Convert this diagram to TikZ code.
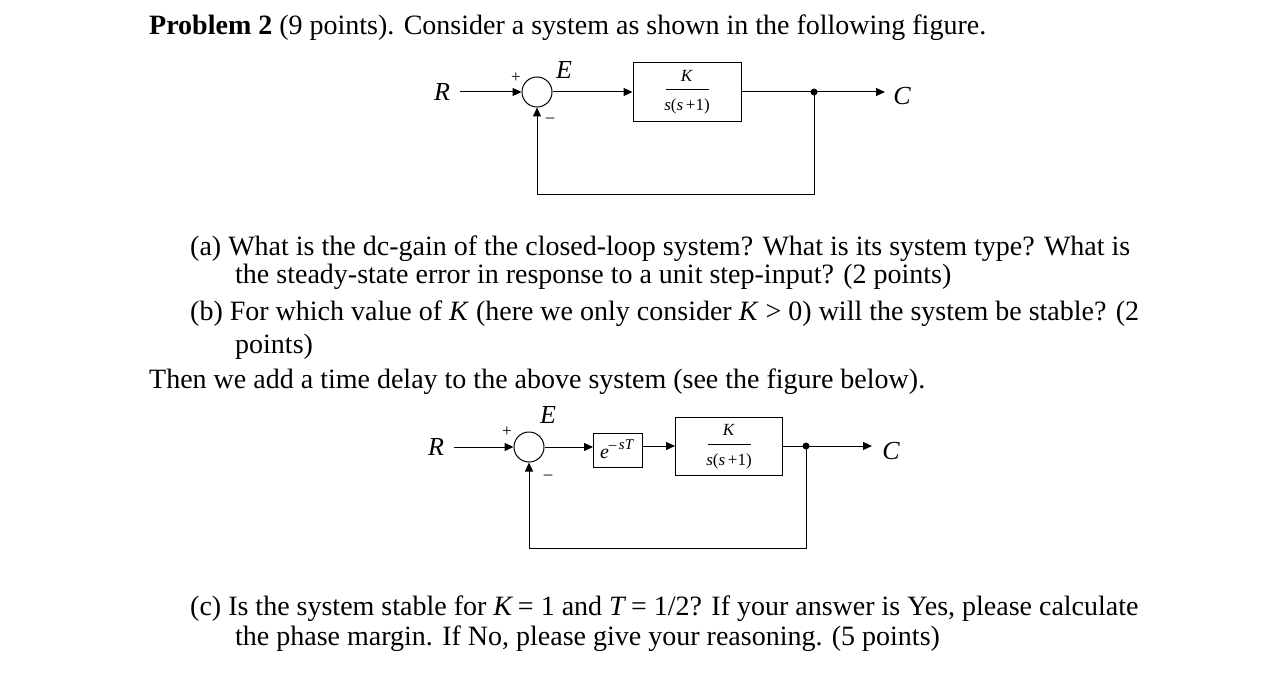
\documentclass[tikz,border=0pt]{standalone}
\usepackage{fontspec}
\setmainfont{Liberation Serif}
\usetikzlibrary{arrows.meta}
\begin{document}
\begin{tikzpicture}[x=1pt,y=-1pt,
  txt/.style={anchor=base west,inner sep=0pt,font=\fontsize{28}{33}\selectfont},
  lbl/.style={inner sep=0pt,font=\fontsize{26}{30}\selectfont\itshape},
  sml/.style={inner sep=0pt,font=\fontsize{17}{20}\selectfont},
  sumc/.style={draw,circle,minimum size=30pt,inner sep=0pt,line width=1pt},
  blk/.style={draw,inner sep=0pt,line width=1pt},
  sig/.style={-{Triangle[length=9pt,width=8pt]},line width=1pt},
  wire/.style={line width=1pt}]
\useasboundingbox (0,0) rectangle (1284,679);
\node[txt] at (149,35) {\textbf{Problem 2} (9 points). Consider a system as shown in the following figure.};
% diagram 1
\node[lbl] (R1) at (442,92) {R};
\node[sumc] (S1) at (537,92) {};
\node[lbl] at (564,70) {E};
\node[sml] at (516,78) {+};
\node[sml] at (550,120) {--};
\node[blk,minimum width=108pt,minimum height=59pt] (G1) at (687,92) {};
\node[sml] at (687,76) {\textit{K}};
\draw[line width=0.6pt] (666,89) -- (709,89);
\node[sml] at (687,106) {\textit{s}(\textit{s}\,+1)};
\coordinate (D1) at (814,92);
\coordinate (O1) at (885,92);
\coordinate (F1) at (814,195);
\coordinate (F1b) at (537,195);
\node[lbl] (C1) at (902,96) {C};
\draw[sig] (R1.east)++(10,0) -- (S1.west);
\draw[sig] (S1.east) -- (G1.west);
\draw[wire] (G1.east) -- (D1);
\draw[sig] (D1) -- (O1);
\fill (D1) circle (3.5pt);
\draw[sig] (D1) -- (F1) -- (F1b) -- (S1.south);
% text
\node[txt] at (190,255) {(a) What is the dc-gain of the closed-loop system? What is its system type? What is};
\node[txt] at (235,283) {the steady-state error in response to a unit step-input? (2 points)};
\node[txt] at (190,320) {(b) For which value of \textit{K} (here we only consider \textit{K} > 0) will the system be stable? (2};
\node[txt] at (235,353) {points)};
\node[txt] at (149,388) {Then we add a time delay to the above system (see the figure below).};
% diagram 2
\node[lbl] (R2) at (436,447) {R};
\node[sumc] (S2) at (529,447) {};
\node[lbl] at (548,415) {E};
\node[sml] at (507,432) {+};
\node[sml] at (548,477) {--};
\node[blk,minimum width=49pt,minimum height=34pt] (D2) at (618,450) {};
\node[inner sep=0pt,font=\fontsize{20}{24}\selectfont] at (617,449) {\textit{e}\raisebox{0.45em}{\fontsize{15}{17}\selectfont--\,\textit{sT}}};
\node[blk,minimum width=107pt,minimum height=58pt] (G2) at (729,446) {};
\node[sml] at (729,430) {\textit{K}};
\draw[line width=0.6pt] (708,444) -- (751,444);
\node[sml] at (729,461) {\textit{s}(\textit{s}\,+1)};
\coordinate (P2) at (806,446);
\coordinate (O2) at (872,446);
\coordinate (F2) at (806,548);
\coordinate (F2b) at (529,548);
\node[lbl] (C2) at (891,451) {C};
\draw[sig] (R2.east)++(10,0) -- (S2.west);
\draw[sig] (S2.east) -- (D2.west |- S2.east);
\draw[sig] (D2.east |- G2.west) -- (G2.west);
\draw[wire] (G2.east) -- (P2);
\draw[sig] (P2) -- (O2);
\fill (P2) circle (3.5pt);
\draw[sig] (P2) -- (F2) -- (F2b) -- (S2.south);
\node[txt] at (190,615) {(c) Is the system stable for \textit{K}\,= 1 and \textit{T}\,= 1/2? If your answer is Yes, please calculate};
\node[txt] at (235,645) {the phase margin. If No, please give your reasoning. (5 points)};
\end{tikzpicture}
\end{document}
